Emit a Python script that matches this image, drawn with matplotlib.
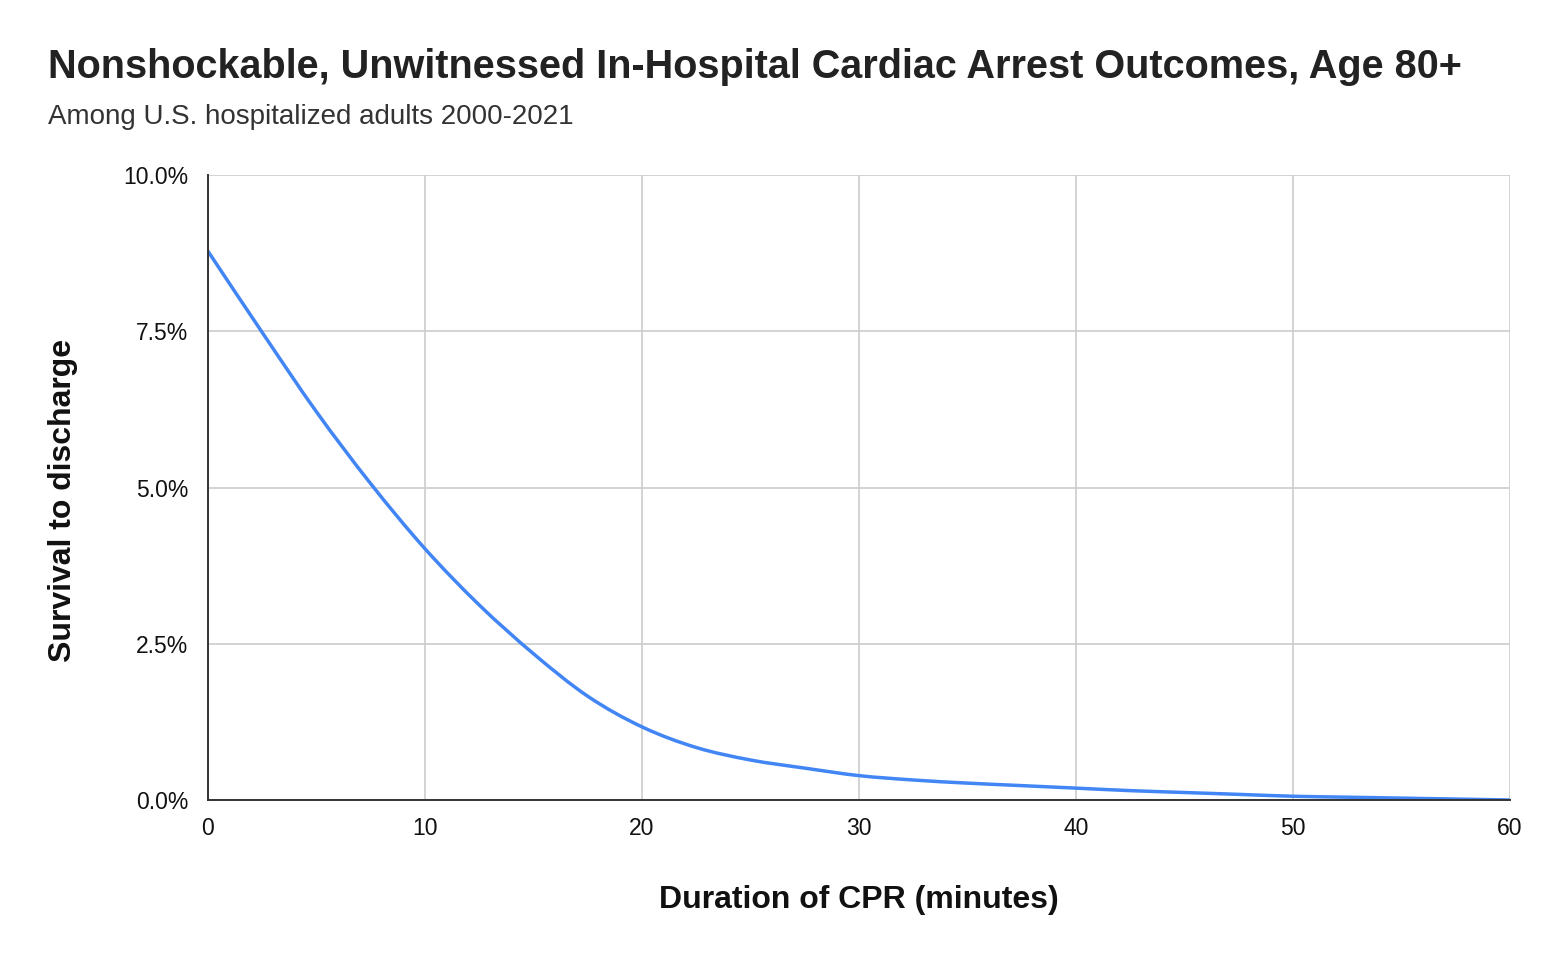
import matplotlib
matplotlib.use("Agg")
import matplotlib.pyplot as plt
from matplotlib.ticker import FuncFormatter
from matplotlib.path import Path
from matplotlib.patches import PathPatch
import numpy as np

plt.rcParams['font.family'] = ['Liberation Sans', 'DejaVu Sans']

# survival to discharge (%) by CPR duration
minutes = [0, 2.5, 5, 7.5, 10, 12.5, 15, 17.5, 20, 22.5, 25, 27.5, 30,
           32.5, 35, 37.5, 40, 42.5, 45, 47.5, 50, 52.5, 55, 57.5, 60]
survival = [8.78, 7.48, 6.21, 5.06, 4.02, 3.12, 2.34, 1.66, 1.17, 0.84, 0.64, 0.51, 0.39,
            0.32, 0.27, 0.23, 0.19, 0.15, 0.12, 0.09, 0.06, 0.045, 0.03, 0.015, 0.0]

x_ticks = [0, 10, 20, 30, 40, 50, 60]
y_ticks = [0, 2.5, 5, 7.5, 10]

fig = plt.figure(figsize=(15.6, 9.66), dpi=100)
ax = fig.add_axes([208 / 1560, 1 - 800 / 966, (1510 - 208) / 1560, (800 - 175) / 966])

# smooth line like the sheets chart: bezier path through the points
pts = np.column_stack([minutes, survival])
tang = np.gradient(pts, axis=0)
verts = [pts[0]]
codes = [Path.MOVETO]
for i in range(len(pts) - 1):
    verts += [pts[i] + tang[i] / 3, pts[i + 1] - tang[i + 1] / 3, pts[i + 1]]
    codes += [Path.CURVE4] * 3
ax.add_patch(PathPatch(Path(verts, codes), fill=False, edgecolor='#4285F4',
                       linewidth=2.5, capstyle='round', zorder=3))

ax.set_xlim(0, 60)
ax.set_ylim(0, 10)
ax.set_xticks(x_ticks)
ax.set_yticks(y_ticks)
ax.yaxis.set_major_formatter(FuncFormatter(lambda v, p: f"{v:.1f}%"))
ax.tick_params(length=0, labelsize=16.5, colors='#111111', pad=14)
ax.tick_params(axis='x', pad=12)

ax.grid(True, color='#cccccc', linewidth=1.2)
ax.set_axisbelow(True)
for s in ['top', 'right']:
    ax.spines[s].set_visible(False)
for s in ['left', 'bottom']:
    ax.spines[s].set_color('#333333')
    ax.spines[s].set_linewidth(1.4)
    ax.spines[s].set_zorder(4)

fig.text(48 / 1560, 1 - 67 / 966, "Nonshockable, Unwitnessed In-Hospital Cardiac Arrest Outcomes, Age 80+",
         fontsize=28.5, fontweight='bold', color='#222222', va='center', ha='left')
fig.text(48 / 1560, 1 - 117 / 966, "Among U.S. hospitalized adults 2000-2021",
         fontsize=20, color='#333333', va='center', ha='left')
fig.text(859 / 1560, 1 - 900 / 966, "Duration of CPR (minutes)",
         fontsize=23, fontweight='bold', color='#111111', va='center', ha='center')
fig.text(63 / 1560, 1 - 500 / 966, "Survival to discharge", rotation=90,
         fontsize=23, fontweight='bold', color='#111111', va='center', ha='center')

fig.savefig("out.png", dpi=100)
